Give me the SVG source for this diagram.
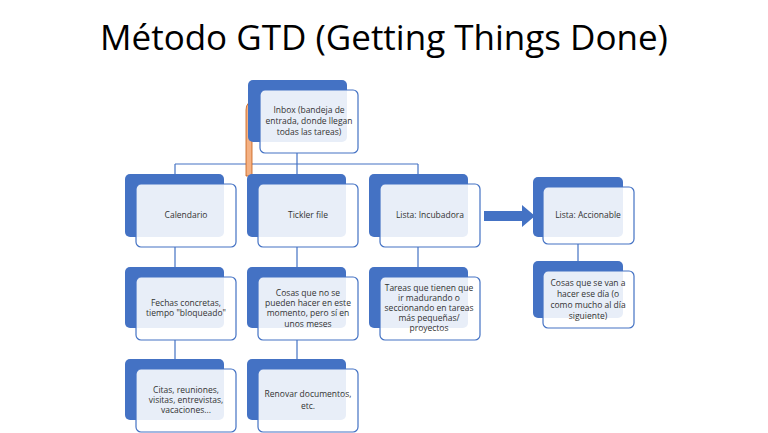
<svg xmlns="http://www.w3.org/2000/svg" width="768" height="433" viewBox="0 0 768 433">
<style>
.b{fill:#4472c4}
.f{fill:#fff;fill-opacity:0.88;stroke:#4472c4;stroke-width:1.2}
.t{font-family:"Open Sans","Liberation Sans",sans-serif;font-size:8.5px;fill:#333;text-anchor:middle}
.l{stroke:#4472c4;stroke-width:1.2;fill:none}
</style>
<rect width="768" height="433" fill="#fff"/>
<text x="384" y="50" font-family="Open Sans,Liberation Sans,sans-serif" font-size="35" text-anchor="middle" fill="#000">Método GTD (Getting Things Done)</text>
<g id="connectors">
<path class="l" d="M297 153V164M175 164H418M175 164V174M297 164V174M418 164V174M175 247V267M297 247V267M418 247V267M175 340V359M297 340V359M578 244V261"/>
<path d="M484 211H522V205L535 216L522 227V221H484Z" fill="#4472c4"/>
<path d="M246 176V110Q246 101 255 101H265V96L274 104L265 112V107H256Q252 107 252 111V176Z" fill="#f4b183" stroke="#c55a11" stroke-width="0.8"/>
</g>
<g id="inbox"><rect class="b" x="248" y="80" width="99" height="62" rx="5"/><rect class="f" x="260" y="90" width="98" height="63" rx="5"/>
<text class="t" x="309" y="113">Inbox (bandeja de</text><text class="t" x="309" y="124">entrada, donde llegan</text><text class="t" x="309" y="135">todas las tareas)</text></g>
<g id="calendario"><rect class="b" x="125" y="174" width="99" height="63" rx="5"/><rect class="f" x="136" y="184" width="100" height="63" rx="5"/><text class="t" x="186" y="218">Calendario</text></g>
<g id="tickler"><rect class="b" x="247" y="174" width="99" height="63" rx="5"/><rect class="f" x="258" y="184" width="100" height="63" rx="5"/><text class="t" x="308" y="218">Tickler file</text></g>
<g id="incubadora"><rect class="b" x="369" y="174" width="99" height="63" rx="5"/><rect class="f" x="380" y="184" width="100" height="63" rx="5"/><text class="t" x="430" y="218">Lista: Incubadora</text></g>
<g id="fechas"><rect class="b" x="125" y="267" width="99" height="61" rx="5"/><rect class="f" x="136" y="277" width="100" height="63" rx="5"/>
<text class="t" x="186" y="306">Fechas concretas,</text><text class="t" x="186" y="316">tiempo "bloqueado"</text></g>
<g id="cosas"><rect class="b" x="247" y="267" width="99" height="61" rx="5"/><rect class="f" x="258" y="277" width="100" height="63" rx="5"/>
<text class="t" x="308" y="296">Cosas que no se</text><text class="t" x="308" y="306">pueden hacer en este</text><text class="t" x="308" y="316">momento, pero sí en</text><text class="t" x="308" y="327">unos meses</text></g>
<g id="tareas"><rect class="b" x="369" y="267" width="99" height="61" rx="5"/><rect class="f" x="380" y="277" width="100" height="63" rx="5"/>
<text class="t" x="429" y="291">Tareas que tienen que</text><text class="t" x="429" y="301">ir madurando o</text><text class="t" x="429" y="311">seccionando en tareas</text><text class="t" x="429" y="321">más pequeñas/</text><text class="t" x="429" y="331">proyectos</text></g>
<g id="citas"><rect class="b" x="125" y="359" width="99" height="61" rx="5"/><rect class="f" x="136" y="369" width="100" height="63" rx="5"/>
<text class="t" x="186" y="393">Citas, reuniones,</text><text class="t" x="186" y="403">visitas, entrevistas,</text><text class="t" x="186" y="413">vacaciones...</text></g>
<g id="renovar"><rect class="b" x="247" y="359" width="99" height="61" rx="5"/><rect class="f" x="258" y="369" width="100" height="63" rx="5"/>
<text class="t" x="308" y="397">Renovar documentos,</text><text class="t" x="308" y="409">etc.</text></g>
<g id="accionable"><rect class="b" x="533" y="177" width="90" height="60" rx="5"/><rect class="f" x="543" y="187" width="91" height="57" rx="5"/>
<text class="t" x="588" y="218" font-size="9.5px">Lista: Accionable</text></g>
<g id="dia"><rect class="b" x="533" y="261" width="90" height="57" rx="5"/><rect class="f" x="543" y="271" width="91" height="57" rx="5"/>
<text class="t" x="588" y="286" font-size="9.5px">Cosas que se van a</text><text class="t" x="588" y="297" font-size="9.5px">hacer ese día (o</text><text class="t" x="588" y="308" font-size="9.5px">como mucho al día</text><text class="t" x="588" y="319" font-size="9.5px">siguiente)</text></g>
</svg>
